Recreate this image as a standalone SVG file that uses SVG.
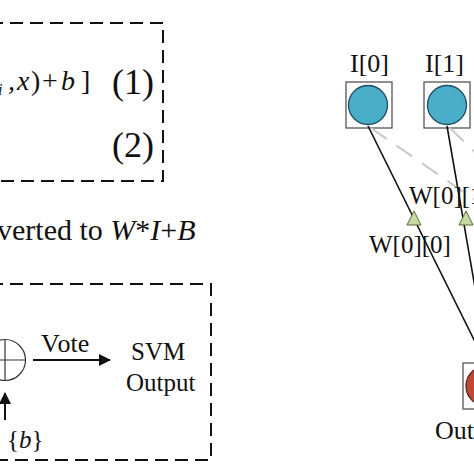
<svg xmlns="http://www.w3.org/2000/svg" width="474" height="474" viewBox="0 0 474 474">
<style>
text{font-family:"Liberation Serif","Times New Roman",serif;fill:#111}
.dash{fill:none;stroke:#111;stroke-width:2;stroke-dasharray:13 7}
.box{fill:#fff;stroke:#555;stroke-width:1.3}
.in{fill:#4aaec8;stroke:#1f4f5e;stroke-width:1.3}
.out{fill:#c0463a;stroke:#5a1f1a;stroke-width:1.3}
.w{fill:#c6dba3;stroke:#556b3a;stroke-width:1}
.solid{stroke:#111;stroke-width:1.6;fill:none}
.gray{stroke:#c8c8c8;stroke-width:2;stroke-dasharray:19 12;fill:none}
</style>
<defs>
<marker id="ah" viewBox="0 0 12 12" refX="11" refY="6" markerWidth="12" markerHeight="12" markerUnits="userSpaceOnUse" orient="auto">
<path d="M0,0 L12,6 L0,12 Z" fill="#111"/>
</marker>
</defs>
<rect width="474" height="474" fill="#fff"/>

<g id="formula-box">
<path class="dash" d="M-10,23 H163 V181 H-10"/>
<text x="-2" y="95" font-size="16" font-style="italic">i</text>
<text x="8" y="90" font-size="28" font-style="italic">,</text>
<text x="17" y="90" font-size="28" font-style="italic">x</text>
<text x="31" y="90" font-size="28">)</text>
<text x="42" y="90" font-size="28">+</text>
<text x="61" y="90" font-size="28" font-style="italic">b</text>
<text x="81" y="90" font-size="28">]</text>
<text x="112" y="94" font-size="36">(1)</text>
<text x="112" y="157" font-size="36">(2)</text>
</g>

<g id="converted-label">
<text x="-3" y="240" font-size="30">verted to <tspan font-style="italic">W</tspan>*<tspan font-style="italic">I</tspan>+<tspan font-style="italic">B</tspan></text>
</g>

<g id="svm-box">
<path class="dash" d="M-10,284 H211 V460 H-10"/>
</g>

<g id="sum-node">
<circle cx="5" cy="360" r="20.5" fill="none" stroke="#333" stroke-width="1.2"/>
<line x1="-16" y1="360" x2="26" y2="360" stroke="#333" stroke-width="1.2"/>
<line x1="5" y1="339" x2="5" y2="381" stroke="#333" stroke-width="1.2"/>
</g>

<g id="bias-label">
<text x="7" y="448" font-size="25">{<tspan font-style="italic">b</tspan>}</text>
</g>

<g id="svm-output">
<text x="131" y="360" font-size="25">SVM</text>
<text x="126" y="391" font-size="25">Output</text>
</g>

<g id="vote-label">
<text x="41" y="352" font-size="26">V<tspan dx="1">ote</tspan></text>
</g>

<g id="I0">
<text x="350" y="72" font-size="26">I[0]</text>
<rect class="box" x="346" y="82" width="46" height="46"/>
<circle class="in" cx="368" cy="105" r="19.5"/>
</g>

<g id="I1">
<text x="425" y="72" font-size="26">I[1]</text>
<rect class="box" x="424" y="82" width="46" height="46"/>
<circle class="in" cx="447" cy="105" r="19.5"/>
</g>

<g id="connectors">
<line class="gray" x1="371" y1="128" x2="478" y2="202"/>
<line class="gray" x1="450" y1="128" x2="478" y2="155"/>
<line class="solid" x1="368" y1="126" x2="486" y2="364"/>
<line class="solid" x1="447" y1="126" x2="478" y2="305"/>
<line x1="5" y1="420" x2="5" y2="393" stroke="#111" stroke-width="2" marker-end="url(#ah)"/>
<line x1="33" y1="360" x2="110" y2="360" stroke="#111" stroke-width="2" marker-end="url(#ah)"/>
</g>

<g id="W00">
<polygon class="w" points="414,211 407,225 421,225"/>
<text x="369" y="253" font-size="25">W[0][0]</text>
</g>

<g id="W01">
<polygon class="w" points="466,211 459,225 473,225"/>
<text x="409" y="204" font-size="25">W[0][1]</text>
</g>

<g id="output-node">
<rect class="box" x="463" y="363" width="46" height="46"/>
<circle class="out" cx="486" cy="386" r="20"/>
<text x="435" y="439" font-size="26">Output</text>
</g>
</svg>
